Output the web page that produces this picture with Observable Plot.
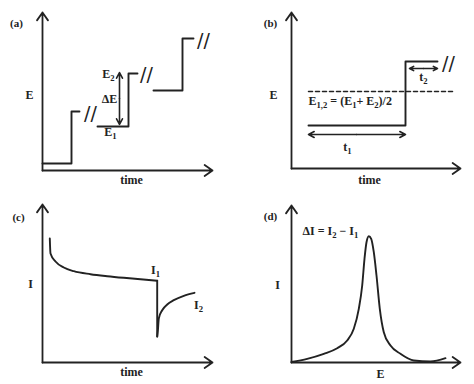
<!DOCTYPE html>
<html><head><meta charset="utf-8">
<script src="https://cdn.jsdelivr.net/npm/d3@7"></script>
<script src="https://cdn.jsdelivr.net/npm/@observablehq/plot@0.6"></script>
<style>
body{margin:0;background:#fff;}
#grid{display:grid;grid-template-columns:237px 237px;grid-template-rows:192px 192px;width:474px;height:384px;background:#fff;}
#grid svg{display:block;overflow:visible;}
</style></head><body><div id="grid"></div>
<script>
// ---------- panel (a): staircase ----------
const aAxes = [{x1:0,y1:0,x2:0,y2:158},{x1:0,y1:0,x2:170,y2:0}];
const aSteps = [
  {s:1,t:0,E:7},{s:1,t:29,E:7},{s:1,t:29,E:59},{s:1,t:37,E:59},
  {s:2,t:55,E:44},{s:2,t:86,E:44},{s:2,t:86,E:97},{s:2,t:95,E:97},
  {s:3,t:111,E:80},{s:3,t:140,E:80},{s:3,t:140,E:132},{s:3,t:151,E:132}
];
const aBreaks = [{t:48,E:57},{t:104,E:96},{t:161,E:130}];
const aDelta = [{x1:77,y1:72,x2:77,y2:98},{x1:77,y1:72,x2:77,y2:46}];
const aLabels = [
  {t:-26,E:147,text:"(a)",size:11},{t:-13,E:75,text:"E",size:12},{t:89,E:-10,text:"time",size:12},
  {t:66,E:96,text:"E_{2}",size:12},{t:67,E:71,text:"ΔE",size:12},{t:68,E:38,text:"E_{1}",size:12}
];
// ---------- panel (b): pulse ----------
const bAxes = [{x1:0,y1:0,x2:0,y2:156},{x1:0,y1:0,x2:169,y2:0}];
const bPulse = [{t:17,E:43},{t:114,E:43},{t:114,E:107},{t:146,E:107}];
const bMid = [{t:17,E:77},{t:162,E:77}];
const bSpans = [{x1:65,y1:34,x2:17,y2:34},{x1:65,y1:34,x2:114,y2:34},{x1:132,y1:100,x2:118,y2:100},{x1:132,y1:100,x2:146,y2:100}];
const bBreaks = [{t:157,E:105}];
const bLabels = [
  {t:-21,E:145,text:"(b)",size:11},{t:-18,E:73,text:"E",size:12},
  {t:78,E:-12,text:"time",size:12},{t:56,E:21,text:"t_{1}",size:12},
  {t:132,E:91,text:"t_{2}",size:12}
];
const bFormula = [{t:17,E:67,text:"E_{1,2} = (E_{1}+ E_{2})/2"}];
// ---------- panel (c): current transient ----------
const cAxes = [{x1:0,y1:0,x2:0,y2:158},{x1:0,y1:0,x2:170,y2:0}];
const cDecay = [
  {t:7.3,I:124},{t:8,I:109},{t:13,I:101},{t:21.3,I:95},{t:31.3,I:91.3},{t:48,I:88.3},
  {t:64.7,I:86.3},{t:81.3,I:84.7},{t:98,I:83.3},{t:114.7,I:81.7}
];
const cDrop = [{t:114.7,I:81.7},{t:114.7,I:26}];
const cRecover = [
  {t:114.7,I:26},{t:115.3,I:31},{t:116.3,I:44},{t:119.7,I:52.3},{t:124.7,I:58},
  {t:131.3,I:62.3},{t:141.3,I:66.7},{t:152,I:69.7}
];
const cLabels = [
  {t:-24,E:145,text:"(c)",size:11},{t:-12,E:78,text:"I",size:12},{t:89,E:-10,text:"time",size:12},
  {t:113,E:92,text:"I_{1}",size:12},{t:156,E:57,text:"I_{2}",size:12}
];
// ---------- panel (d): differential peak ----------
const dAxes = [{x1:0,y1:0,x2:0,y2:157},{x1:0,y1:0,x2:169,y2:0}];
const dPeak = [
  {E:0,I:0.5},{E:15.7,I:3.7},{E:32.3,I:8.7},{E:45.7,I:14.3},{E:55.7,I:22},{E:62.3,I:33.7},
  {E:67.3,I:53.7},{E:70.7,I:77},{E:73,I:103.7},{E:75,I:120.3},{E:77.3,I:126.3},{E:79.7,I:123.7},
  {E:82.3,I:110.3},{E:85,I:87},{E:88.3,I:53.7},{E:92.3,I:30.3},{E:99,I:17},{E:109,I:8.7},
  {E:122.3,I:2},{E:139,I:1},{E:154,I:4.3}
];
const dLabels = [
  {t:-21,E:146,text:"(d)",size:11},{t:-14,E:77,text:"I",size:12},
  {t:89,E:-12,text:"E",size:12}
];
const dFormula = [{t:11,E:131,text:"ΔI = I_{2} − I_{1}"}];

const INK = "#222";
const FONT = "Liberation Serif, Times New Roman, serif";

function subscripts(svg){
  d3.select(svg).selectAll("text").each(function(){
    const s = this.textContent;
    if (!s.includes("_{")) return;
    this.textContent = "";
    const parts = s.split(/(_\{[^}]*\})/);
    let shifted = false;
    for (const p of parts) {
      if (!p) continue;
      const ts = document.createElementNS("http://www.w3.org/2000/svg","tspan");
      if (p.startsWith("_{")) {
        ts.textContent = p.slice(2,-1);
        ts.setAttribute("font-size","0.72em");
        ts.setAttribute("dy", shifted ? "0" : "3");
        shifted = true;
      } else {
        ts.textContent = p;
        if (shifted) { ts.setAttribute("dy","-3"); shifted = false; }
      }
      this.appendChild(ts);
    }
  });
  return svg;
}

function panel(ox, oy, marks){
  const svg = Plot.plot({
    width:237, height:192, margin:0,
    x:{domain:[-ox, 237-ox], axis:null},
    y:{domain:[oy-192, oy], axis:null},
    style:{background:"transparent", fontFamily:FONT},
    marks
  });
  document.getElementById("grid").appendChild(subscripts(svg));
}
function axes(data){
  return Plot.arrow(data,{x1:"x1",y1:"y1",x2:"x2",y2:"y2",stroke:INK,strokeWidth:1.8,headLength:8,headAngle:70});
}
function breaks(data){
  return Plot.text(data,{x:"t",y:"E",text:()=>"//",fontSize:19,fill:INK,fontFamily:"DejaVu Sans",fontWeight:"normal"});
}
function spans(data){
  return Plot.arrow(data,{x1:"x1",y1:"y1",x2:"x2",y2:"y2",stroke:INK,strokeWidth:1.6,headLength:6,headAngle:55});
}
function labels(data){
  return Plot.text(data,{x:"t",y:"E",text:"text",fontSize:d=>d.size,fontWeight:"bold",fill:INK,fontFamily:FONT});
}
function formula(data){
  return Plot.text(data,{x:"t",y:"E",text:"text",fontSize:12,textAnchor:"start",fontWeight:"bold",fill:INK,fontFamily:FONT});
}

// (a)
panel(42, 170, [
  axes(aAxes),
  Plot.line(aSteps,{x:"t",y:"E",z:"s",stroke:INK,strokeWidth:1.9}),
  breaks(aBreaks),
  spans(aDelta),
  labels(aLabels)
]);
// (b)
panel(54, 168, [
  axes(bAxes),
  Plot.line(bMid,{x:"t",y:"E",stroke:INK,strokeWidth:1.5,strokeDasharray:"4,3"}),
  Plot.line(bPulse,{x:"t",y:"E",stroke:INK,strokeWidth:1.9}),
  breaks(bBreaks),
  spans(bSpans),
  labels(bLabels),
  formula(bFormula)
]);
// (c)
panel(42, 170, [
  axes(cAxes),
  Plot.line(cDecay,{x:"t",y:"I",stroke:INK,strokeWidth:1.9,curve:"monotone-x"}),
  Plot.line(cDrop,{x:"t",y:"I",stroke:INK,strokeWidth:1.9}),
  Plot.line(cRecover,{x:"t",y:"I",stroke:INK,strokeWidth:1.9,curve:"monotone-x"}),
  labels(cLabels)
]);
// (d)
panel(54, 170, [
  axes(dAxes),
  Plot.line(dPeak,{x:"E",y:"I",stroke:INK,strokeWidth:1.9,curve:"monotone-x"}),
  labels(dLabels),
  formula(dFormula)
]);
</script></body></html>
